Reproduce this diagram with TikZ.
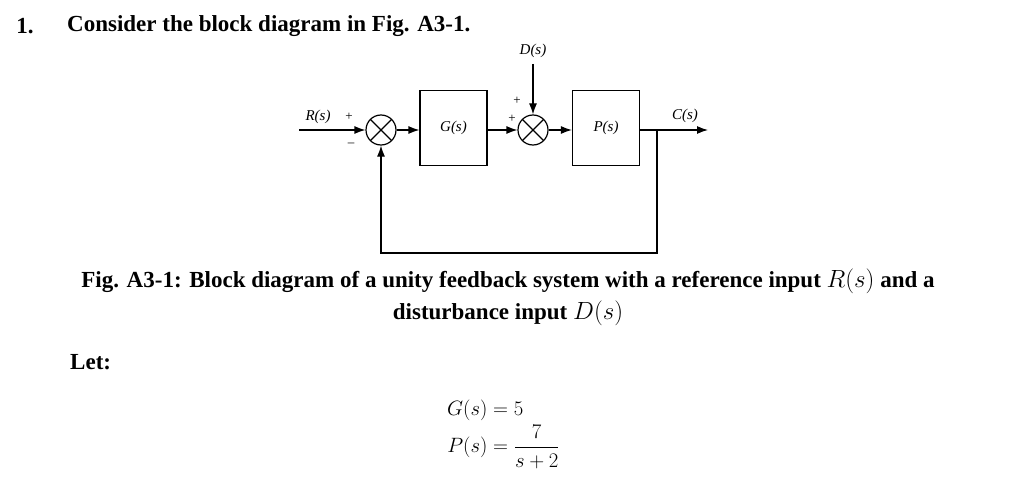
\documentclass[tikz,border=0pt]{standalone}
\usepackage{amsmath}
\usepackage{fontspec}
\setmainfont{Liberation Serif}
\usetikzlibrary{arrows.meta}
\tikzset{
  blk/.style={draw,line width=1.2pt,minimum width=67pt,minimum height=75pt,font=\fontsize{15}{16}\selectfont\itshape},
  sum/.style={draw,line width=1.2pt,circle,minimum size=30pt,inner sep=0pt,path picture={
    \draw[line width=1.2pt] ([shift={(-45:15pt)}]path picture bounding box.center) -- ([shift={(135:15pt)}]path picture bounding box.center)
          ([shift={(45:15pt)}]path picture bounding box.center) -- ([shift={(-135:15pt)}]path picture bounding box.center);}},
  sig/.style={-{Latex[length=11pt,width=8pt]},line width=1.2pt},
  lbl/.style={font=\fontsize{15}{16}\selectfont\itshape,inner sep=0pt},
  sgn/.style={font=\fontsize{13}{14}\selectfont,inner sep=0pt},
  txt/.style={font=\fontsize{23}{26}\selectfont\bfseries,inner sep=0pt}
}
\begin{document}
\begin{tikzpicture}[x=1pt,y=-1pt]
\useasboundingbox (0,0) rectangle (1010,495);
% text
\node[txt] (num) at (25,26) {1.};
\node[txt,anchor=west] (title) at (67,26) {Consider the block diagram in Fig. A3-1.};
\node[txt] (cap1) at (508,281) {Fig. A3-1: Block diagram of a unity feedback system with a reference input $R(s)$ and a};
\node[txt] (cap2) at (508,313) {disturbance input $D(s)$};
\node[txt,anchor=west] (let) at (70,362) {Let:};
\node[font=\fontsize{22}{26}\selectfont,anchor=west,inner sep=0pt] (eq) at (447,433)
  {$\begin{aligned} G(s) &= 5\\[-2pt] P(s) &= \frac{7}{s+2}\end{aligned}$};
% diagram
\coordinate (in) at (299,130);
\node[sum] (s1) at (381,130) {};
\node[blk] (g) at (453.5,128) {G(s)};
\node[sum] (s2) at (533,130) {};
\node[blk] (p) at (606,128) {P(s)};
\coordinate (dtop) at (533,64);
\coordinate (br) at (657,130);
\coordinate (out) at (708,130);
\coordinate (fb) at (381,253);
\node[lbl] (rl) at (318,117) {R(s)};
\node[lbl] (cl) at (685,116) {C(s)};
\node[lbl] (dl) at (533,51) {D(s)};
\node[sgn] at (349,117) {+};
\node[sgn] at (351,145) {--};
\node[sgn] at (517,101) {+};
\node[sgn] at (512,119) {+};
\draw[sig] (in) -- (s1);
\draw[sig] (s1) -- (g.west |- s1);
\draw[sig] (g.east |- s2) -- (s2);
\draw[sig] (dtop) -- (s2);
\draw[sig] (s2) -- (p.west |- s2);
\draw[sig] (p.east |- br) -- (out);
\draw[sig] (br) |- (fb) -- (s1);
\end{tikzpicture}
\end{document}
